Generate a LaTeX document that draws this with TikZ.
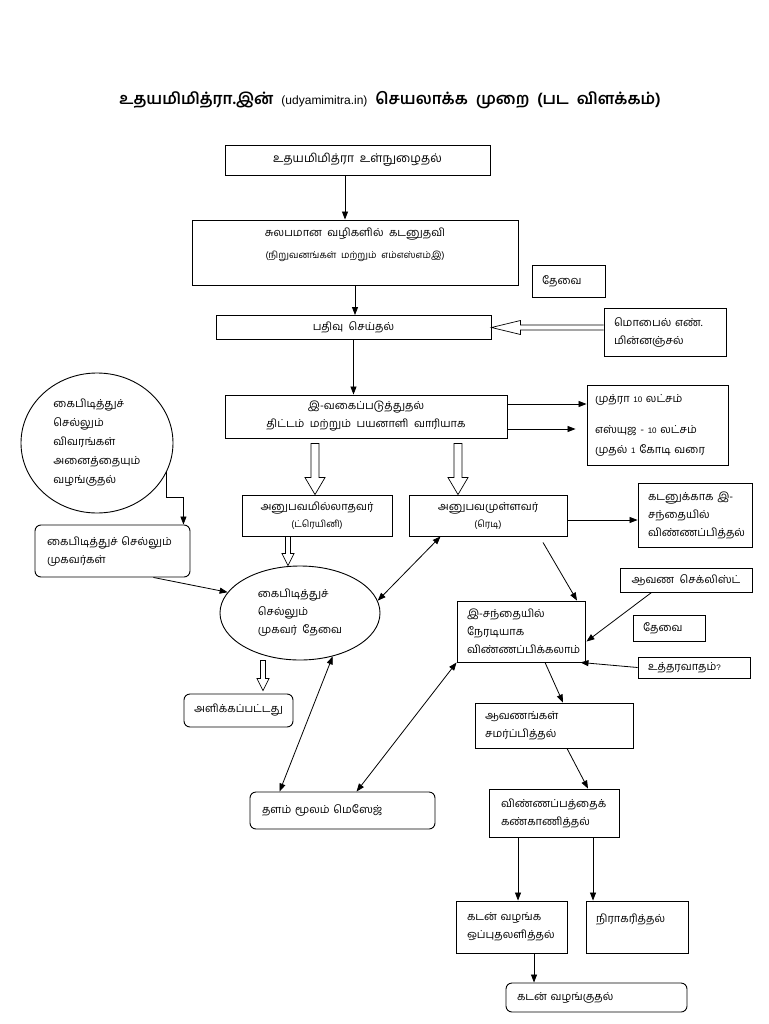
\documentclass[tikz,border=0pt]{standalone}
\usepackage{fontspec}
\setmainfont[Script=Tamil, WordSpace=2]{Hind Madurai}
\newfontfamily\latinfont{Liberation Sans}
\usetikzlibrary{arrows.meta,calc,shapes.geometric}
\newcommand{\smallnum}[1]{{\latinfont\fontsize{8}{10}\selectfont #1}}

\begin{document}
\begin{tikzpicture}[x=1pt, y=-1pt, line width=0.8pt,
	font=\fontsize{11}{18}\selectfont,
	>={Triangle[length=8pt,width=6pt]},
	box/.style={draw, line width=0.9pt, inner sep=0pt, align=center},
	lbox/.style={draw, line width=0.9pt, inner xsep=10pt, inner ysep=0pt, align=left},
	blob/.style={draw, ellipse, line width=0.9pt, inner sep=0pt, align=left},
	hollow/.style={draw, line width=0.7pt, line join=miter}]
	\useasboundingbox (0,0) rectangle (768,1024);
	% title
	\node (title) at (390,100) {\bfseries\fontsize{16}{18}\selectfont உதயமிமித்ரா.இன் {\latinfont\mdseries\fontsize{12}{18}\selectfont (udyamimitra.in)} செயலாக்க முறை (பட விளக்கம்)};
	% main column
	\node[box, minimum width=265pt, minimum height=30pt, font=\fontsize{12}{18}\selectfont] (entry) at (357.5,160) {உதயமிமித்ரா உள்நுழைதல்};
	\node[box, minimum width=326pt, minimum height=65pt] (loan) at (355,252.5) {சுலபமான வழிகளில் கடனுதவி\\[4pt]{\fontsize{9.5}{12}\selectfont(நிறுவனங்கள் மற்றும் எம்எஸ்எம்இ)}\\ \mbox{}};
	\node[lbox, text width=53pt, minimum height=32pt] (need1) at (568.5,281) {தேவை};
	\node[box, minimum width=275pt, minimum height=24pt] (reg) at (353.5,327.5) {பதிவு செய்தல்};
	\node[lbox, text width=102pt, minimum height=48pt] (mobile) at (665,332) {மொபைல் எண்.\\மின்னஞ்சல்};
	\node[box, minimum width=282pt, minimum height=43pt] (classify) at (366,416.5) {இ-வகைப்படுத்துதல்\\திட்டம் மற்றும் பயனாளி வாரியாக};
	\node[lbox, inner xsep=8pt, text width=125pt, minimum height=80pt] (mudra) at (657.5,425) {முத்ரா \smallnum{10} லட்சம்\\[13pt]எஸ்யுஜ - \smallnum{10} லட்சம்\\[2pt]முதல் \smallnum{1} கோடி வரை};
	% left side
	\node[blob, minimum width=152pt, minimum height=140pt, font=\fontsize{11}{19}\selectfont] (details) at (97,443) {கைபிடித்துச்\\செல்லும்\\விவரங்கள்\\அனைத்தையும்\\வழங்குதல்};
	\node[box, rounded corners=6pt, align=left, inner xsep=12pt, text width=131pt, minimum height=52pt] (agents) at (112.5,551) {கைபிடித்துச் செல்லும்\\முகவர்கள்};
	% experience boxes
	\node[box, minimum width=150pt, minimum height=41pt] (trainee) at (317,515.5) {அனுபவமில்லாதவர்\\[-1pt]{\fontsize{9.5}{12}\selectfont(ட்ரெயினி)}};
	\node[box, minimum width=158pt, minimum height=41pt] (ready) at (488,515.5) {அனுபவமுள்ளவர்\\[-1pt]{\fontsize{9.5}{12}\selectfont(ரெடி)}};
	\node[lbox, text width=94pt, minimum height=64pt] (apply) at (695,515) {கடனுக்காக இ-\\சந்தையில்\\விண்ணப்பித்தல்};
	\node[blob, minimum width=160pt, minimum height=94pt] (need2) at (300,613) {கைபிடித்துச்\\செல்லும்\\முகவர் தேவை};
	\node[box, minimum width=132pt, minimum height=24pt] (checklist) at (686,580) {ஆவண செக்லிஸ்ட்};
	\node[lbox, text width=108pt, minimum height=61pt] (ecom) at (521,631.5) {இ-சந்தையில்\\நேரடியாக\\விண்ணப்பிக்கலாம்};
	\node[lbox, text width=52pt, minimum height=26pt] (need3) at (669,628) {தேவை};
	\node[lbox, text width=92pt, minimum height=21pt] (guarantee) at (694,667.5) {உத்தரவாதம்\smallnum{?}};
	\node[box, rounded corners=6pt, minimum width=109pt, minimum height=33pt] (given) at (238.5,710.5) {அளிக்கப்பட்டது};
	\node[box, rounded corners=6pt, align=left, inner xsep=12pt, text width=161pt, minimum height=37pt] (message) at (342.5,810.5) {தளம் மூலம் மெஸேஜ்};
	% lower flow
	\node[lbox, text width=138pt, minimum height=45pt] (docs) at (554,725.5) {ஆவணங்கள்\\சமர்ப்பித்தல்};
	\node[lbox, inner xsep=12pt, text width=106pt, minimum height=48pt] (track) at (554,813) {விண்ணப்பத்தைக்\\கண்காணித்தல்};
	\node[lbox, inner xsep=11pt, text width=89pt, minimum height=52pt] (approve) at (511.5,927) {கடன் வழங்க\\ஒப்புதலளித்தல்};
	\node[lbox, text width=82pt, minimum height=52pt] (reject) at (637,927) {நிராகரித்தல்\\ \mbox{}};
	\node[box, rounded corners=6pt, align=left, inner xsep=11pt, text width=159pt, minimum height=29pt] (disburse) at (596.5,997.5) {கடன் வழங்குதல்};
	% arrows of the main column
	\draw[->] ($(entry.south)+(-12.5,0)$) -- ($(loan.north)+(-10,0)$);
	\draw[->] (loan.south) -- (loan.south |- reg.north);
	\draw[->] (reg.south) -- (reg.south |- classify.north);
	\draw[hollow] let \p1=(mobile.west), \p2=(reg.east) in (\x1,\y2+2.5pt) -- (\x2+29pt,\y2+2.5pt) -- (\x2+29pt,\y2+7pt) -- (\x2,\y2) -- (\x2+29pt,\y2-7pt) -- (\x2+29pt,\y2-2.5pt) -- (\x1,\y2-2.5pt);
	\draw[->] ($(classify.east)+(0,-12.5)$) -- ($(classify.east -| mudra.west)+(0,-12.5)$);
	\draw[->] ($(classify.east)+(0,12.5)$) -- ($(classify.east -| mudra.west)+(-11,12.5)$);
	\draw[hollow] let \p1=($(classify.south)+(-51,5)$), \p2=(trainee.north) in (\x1-4pt,\y1) -- (\x1-4pt,\y2+17pt) -- (\x1-10pt,\y2+17pt) -- (\x1,\y2) -- (\x1+10pt,\y2+17pt) -- (\x1+4pt,\y2+17pt) -- (\x1+4pt,\y1) -- cycle;
	\draw[hollow] let \p1=($(classify.south)+(92,5)$), \p2=(ready.north) in (\x1-4pt,\y1) -- (\x1-4pt,\y2+17pt) -- (\x1-10pt,\y2+17pt) -- (\x1,\y2) -- (\x1+10pt,\y2+17pt) -- (\x1+4pt,\y2+17pt) -- (\x1+4pt,\y1) -- cycle;
	% arrows on the left
	\draw[->] (details.-23) -- ++(0,25) -| ($(agents.north east)+(-7,0)$);
	\draw[->] ($(agents.south east)+(-37,0)$) -- (need2.164);
	\draw[hollow] let \p1=($(trainee.south)+(-29,0)$), \p2=(need2.north) in (\x1-2.5pt,\y1) -- (\x1-2.5pt,\y2+12pt) -- (\x1-6pt,\y2+12pt) -- (\x1,\y2) -- (\x1+6pt,\y2+12pt) -- (\x1+2.5pt,\y2+12pt) -- (\x1+2.5pt,\y1) -- cycle;
	\draw[hollow] let \p1=($(need2.south)+(-37,0)$), \p2=($(given.north)+(0,-3)$) in (\x1-2.5pt,\y1) -- (\x1-2.5pt,\y2+12pt) -- (\x1-6pt,\y2+12pt) -- (\x1,\y2) -- (\x1+6pt,\y2+12pt) -- (\x1+2.5pt,\y2+12pt) -- (\x1+2.5pt,\y1) -- cycle;
	\draw[<->] (need2.9) -- ($(ready.south west)+(32,0)$);
	\draw[<->] (need2.-53) -- ($(message.north west)+(30,0)$);
	\draw[<->] ($(message.north west)+(107,0)$) -- (ecom.south west);
	% arrows on the right
	\draw[->] ($(ready.east)+(0,4.5)$) -- ($(ready.east -| apply.west)+(0,4.5)$);
	\draw[->] ($(ready.south)+(55,6)$) -- ($(ecom.north)+(56,0)$);
	\draw[->] ($(checklist.south west)+(32,0)$) -- ($(ecom.east)+(1,10)$);
	\draw[->] (guarantee.west) -- ($(ecom.south east)+(-5,0)$);
	\draw[->] ($(ecom.south)+(24,0)$) -- ($(docs.north)+(9,0)$);
	\draw[->] ($(docs.south)+(13,0)$) -- ($(track.north)+(34,0)$);
	\draw[->] ($(track.south)+(-36,0)$) -- ($(approve.north)+(6.5,0)$);
	\draw[->] ($(track.south)+(39,0)$) -- ($(reject.north)+(-44,0)$);
	\draw[->] ($(approve.south)+(22.5,0)$) -- ($(disburse.north)+(-62.5,0)$);
\end{tikzpicture}
\end{document}
